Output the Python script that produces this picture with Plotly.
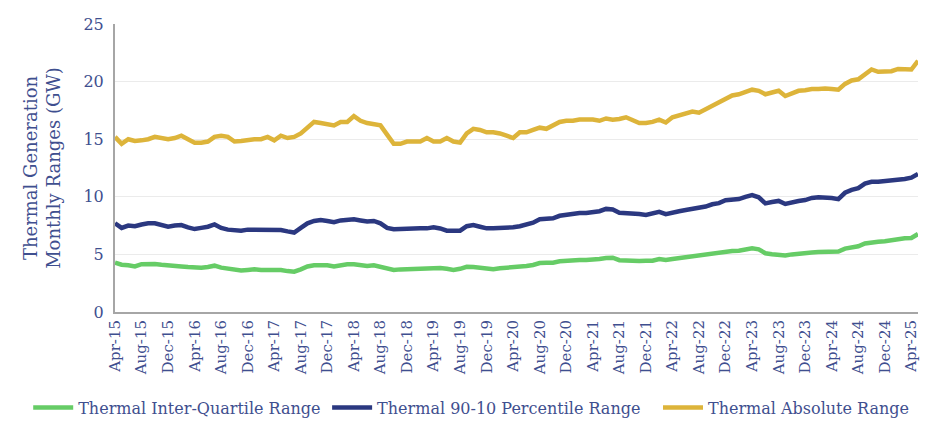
import pandas as pd
import plotly.graph_objects as go

months = [d.strftime("%b-%y") for d in pd.date_range("2015-04-01", "2025-05-01", freq="MS")]

iqr = [4.28, 4.1, 4.05, 3.95, 4.15, 4.17, 4.17, 4.1, 4.02, 4.0,
       3.95, 3.9, 3.85, 3.85, 3.9, 4.02, 3.85, 3.75, 3.65, 3.6,
       3.65, 3.7, 3.65, 3.65, 3.65, 3.65, 3.55, 3.5, 3.7, 3.95,
       4.05, 4.08, 4.05, 3.95, 4.05, 4.15, 4.15, 4.05, 4.0, 4.05,
       3.95, 3.75, 3.65, 3.7, 3.72, 3.75, 3.82, 3.82, 3.82, 3.82,
       3.75, 3.65, 3.75, 3.93, 3.9, 3.85, 3.78, 3.72, 3.79, 3.82,
       3.85, 3.9, 4.0, 4.08, 4.25, 4.28, 4.28, 4.4, 4.47, 4.5,
       4.51, 4.51, 4.51, 4.6, 4.68, 4.71, 4.5, 4.45, 4.43, 4.43,
       4.44, 4.45, 4.6, 4.52, 4.6, 4.68, 4.78, 4.82, 4.88, 4.95,
       5.03, 5.12, 5.22, 5.3, 5.32, 5.4, 5.53, 5.44, 5.1, 5.02,
       5.0, 4.9, 5.0, 5.08, 5.12, 5.16, 5.2, 5.24, 5.24, 5.25,
       5.5, 5.6, 5.7, 5.95, 6.05, 6.1, 6.15, 6.25, 6.35, 6.4,
       6.42, 6.77]

p90_10 = [7.7, 7.3, 7.5, 7.45, 7.6, 7.7, 7.7, 7.55, 7.4, 7.5,
          7.55, 7.35, 7.2, 7.3, 7.4, 7.6, 7.3, 7.15, 7.06, 7.06,
          7.15, 7.15, 7.06, 7.15, 7.1, 7.12, 7.0, 6.9, 7.3, 7.7,
          7.9, 7.98, 7.9, 7.8, 7.95, 8.0, 8.05, 7.95, 7.85, 7.9,
          7.7, 7.3, 7.18, 7.2, 7.25, 7.26, 7.26, 7.26, 7.35, 7.25,
          7.06, 7.06, 7.06, 7.45, 7.55, 7.4, 7.26, 7.26, 7.26, 7.3,
          7.35, 7.45, 7.6, 7.75, 8.05, 8.1, 8.13, 8.35, 8.45, 8.55,
          8.6, 8.6, 8.65, 8.75, 8.95, 8.9, 8.62, 8.6, 8.57, 8.5,
          8.42, 8.55, 8.7, 8.5, 8.65, 8.75, 8.85, 8.92, 9.0, 9.15,
          9.35, 9.45, 9.7, 9.75, 9.8, 10.0, 10.15, 9.96, 9.43, 9.55,
          9.64, 9.38, 9.55, 9.64, 9.72, 9.9, 9.96, 9.96, 9.9, 9.8,
          10.35, 10.6, 10.75, 11.15, 11.3, 11.31, 11.35, 11.4, 11.46, 11.55,
          11.66, 11.98]

absolute = [15.2, 14.6, 15.0, 14.85, 14.9, 15.0, 15.2, 15.1, 15.0, 15.1,
            15.3, 15.0, 14.7, 14.7, 14.8, 15.2, 15.3, 15.2, 14.8, 14.85,
            14.95, 15.0, 15.0, 15.2, 14.9, 15.3, 15.1, 15.2, 15.5, 16.0,
            16.5, 16.4, 16.3, 16.2, 16.5, 16.5, 17.0, 16.6, 16.4, 16.3,
            16.2, 15.4, 14.6, 14.6, 14.8, 14.8, 14.8, 15.1, 14.8, 14.8,
            15.1, 14.8, 14.7, 15.5, 15.9, 15.8, 15.6, 15.6, 15.5, 15.3,
            15.1, 15.6, 15.6, 15.8, 16.0, 15.9, 16.2, 16.5, 16.6, 16.6,
            16.7, 16.7, 16.7, 16.6, 16.8, 16.7, 16.75, 16.9, 16.6, 16.4,
            16.4, 16.5, 16.7, 16.45, 16.9, 17.1, 17.3, 17.4, 17.3, 17.6,
            17.9, 18.15, 18.4, 18.8, 18.9, 19.15, 19.3, 19.2, 18.9, 19.05,
            19.2, 18.75, 19.0, 19.2, 19.25, 19.35, 19.35, 19.4, 19.35, 19.3,
            19.8, 20.1, 20.2, 20.6, 21.05, 20.85, 20.9, 20.9, 21.1, 21.05,
            21.05, 21.8]

series_names = ["Thermal Inter-Quartile Range", "Thermal 90-10 Percentile Range", "Thermal Absolute Range"]
series_values = [iqr, p90_10, absolute]
colors = ["#66CC66", "#2B3880", "#DDB43A"]
legend_ids = ["legend", "legend2", "legend3"]
legend_x = [0.030, 0.348, 0.700]

tick_idx = list(range(0, len(months), 4))
tick_labels = [months[i] for i in tick_idx]

FONT = "DejaVu Serif"
TXT = "#3F4F8F"

fig = go.Figure()
xs = list(range(len(months)))
for name, vals, c, lg in zip(series_names, series_values, colors, legend_ids):
    fig.add_trace(go.Scatter(x=xs, y=vals, mode="lines", name=name, legend=lg,
                             line=dict(color=c, width=4.5), customdata=months,
                             hovertemplate="%{customdata}: %{y}<extra></extra>"))

legend_common = dict(orientation="h", xref="container", yref="container",
                     xanchor="left", y=0.052, yanchor="middle",
                     font=dict(size=16, family=FONT, color=TXT),
                     itemwidth=40, bgcolor="rgba(0,0,0,0)")

layout_legends = {}
for lg, lx in zip(legend_ids, legend_x):
    layout_legends[lg] = dict(legend_common, x=lx)

fig.update_layout(
    width=940, height=430,
    margin=dict(l=115, r=22, t=24, b=118),
    paper_bgcolor="white", plot_bgcolor="white",
    font=dict(family=FONT, color=TXT, size=15),
    showlegend=True,
    xaxis=dict(range=[0, len(months) - 1], tickmode="array", tickvals=tick_idx,
               ticktext=tick_labels, tickangle=-90, showgrid=False,
               showline=True, linecolor="#A6A6A6", linewidth=2,
               ticks="", zeroline=False, tickfont=dict(size=15)),
    yaxis=dict(range=[0, 25], dtick=5, showgrid=True, gridcolor="#EBEBEB",
               gridwidth=1, showline=True, linecolor="#A6A6A6", linewidth=2,
               ticks="", zeroline=False, tickfont=dict(size=16),
               ticklabelstandoff=6,
               title=dict(text="Thermal Generation<br>Monthly Ranges (GW)",
                          font=dict(size=18), standoff=18)),
    **layout_legends,
)

fig.write_html("out.html")
